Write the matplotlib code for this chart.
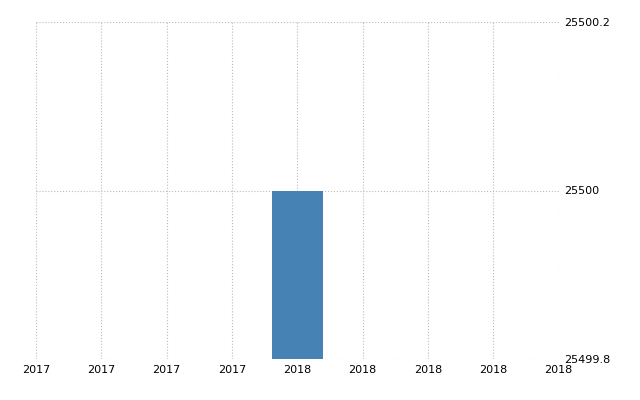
import matplotlib
matplotlib.use("Agg")
import matplotlib.pyplot as plt

tick_labels = ["2017","2017","2017","2017","2018","2018","2018","2018","2018"]
bar_pos = [4]
values = [25500]
ymin, ymax = 25499.8, 25500.2
yticks = [25499.8, 25500, 25500.2]

fig = plt.figure(figsize=(6.4, 4.0), dpi=100)
ax = fig.add_axes([0.056, 0.1025, 0.817, 0.8425])
ax.bar(bar_pos, [v - ymin for v in values], bottom=ymin, width=0.78, color="#4682b4", zorder=3)
ax.set_xlim(0, 8)
ax.set_ylim(ymin, ymax)
ax.set_xticks(range(len(tick_labels)))
ax.set_xticklabels(tick_labels, fontsize=8)
ax.set_yticks(yticks)
ax.set_yticklabels(["25499.8", "25500", "25500.2"], fontsize=8)
ax.yaxis.tick_right()
ax.tick_params(length=0, pad=4)
ax.grid(True, linestyle=":", color="#bbbbbb", linewidth=0.8)
for s in ax.spines.values():
    s.set_visible(False)
fig.savefig("out.png", dpi=100)
